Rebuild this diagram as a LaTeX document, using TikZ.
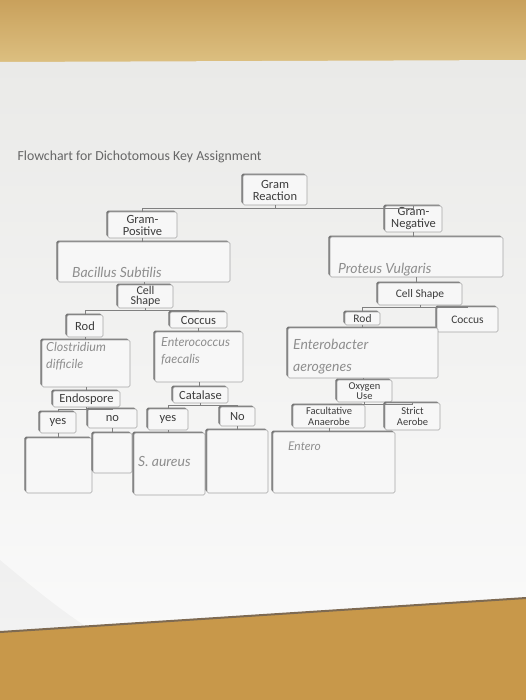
\documentclass[tikz,border=0pt]{standalone}
\usepackage{fontspec}
\setmainfont{Carlito}
\newfontfamily\handfont{Lato}
\usepackage{tikz}
\usetikzlibrary{shadows}

\definecolor{woodtop}{HTML}{C9A15C}
\definecolor{woodlight}{HTML}{DCBF80}
\definecolor{woodlow}{HTML}{C8984A}
\definecolor{woodedge}{HTML}{7E6A52}
\definecolor{paper}{HTML}{EAEAE8}
\definecolor{ink}{HTML}{3C3C3C}
\definecolor{pencil}{HTML}{8E8E8E}

\tikzset{
  box/.style={draw=gray!70, line width=0.6pt, fill=white!94!gray, rounded corners=1.5pt,
    inner sep=0pt, align=center, text=ink, font=\fontsize{12.5}{12}\selectfont,
    general shadow={fill=black!55, shadow xshift=-1.6pt, shadow yshift=1.4pt}},
  small/.style={font=\fontsize{10.5}{10.5}\selectfont},
  hand/.style={text=pencil, font=\handfont\itshape\fontsize{14}{16}\selectfont, align=left, inner sep=0pt},
  link/.style={draw=black!50, line width=0.7pt},
}

\begin{document}
\begin{tikzpicture}[x=1pt,y=-1pt]
\useasboundingbox (0,0) rectangle (526,700);
% table and sheet of paper
\shade[top color=woodtop, bottom color=woodlight] (0,0) rectangle (526,62);
\shade[top color=paper, bottom color=white!96!gray] (0,62) -- (526,60) -- (526,598) -- (0,632) -- cycle;
\fill[black, opacity=0.03] (0,560) .. controls (30,585) and (60,610) .. (90,629) -- (0,632) -- cycle;
\fill[woodlow] (0,632) -- (526,598) -- (526,700) -- (0,700) -- cycle;
\draw[woodedge, line width=2pt] (0,632) -- (526,598);

\node[anchor=west, text=black!60, font=\fontsize{13.8}{14}\selectfont] (title) at (14,157) {Flowchart for Dichotomous Key Assignment};

% gram reaction
\node[box, minimum width=64, minimum height=30] (GR) at (275,190) {Gram\\Reaction};
\node[box, minimum width=69, minimum height=26] (GP) at (142.5,225) {Gram-\\Positive};
\node[box, minimum width=57, minimum height=26] (GN) at (413.5,219) {Gram-\\Negative};
\node[box, minimum width=172, minimum height=40] (BS) at (144,262) {};
\node[box, minimum width=173, minimum height=40] (PV) at (416.5,257) {};
\node[hand, anchor=west] (BSt) at (72,272) {Bacillus Subtilis};
\node[hand, anchor=west] (PVt) at (338,270) {Proteus Vulgaris};

% gram positive side
\node[box, minimum width=55, minimum height=23, font=\fontsize{12}{10.5}\selectfont] (CS1) at (145.5,296.5) {Cell\\Shape};
\node[box, minimum width=36, minimum height=22] (Rod1) at (85,326) {Rod};
\node[box, minimum width=57, minimum height=16] (Coc1) at (198.5,320) {Coccus};
\node[box, minimum width=88, minimum height=47] (CD) at (86,363.5) {};
\node[box, minimum width=88, minimum height=50] (EF) at (199,357) {};
\node[hand, font=\handfont\itshape\fontsize{12.5}{17}\selectfont, anchor=north west] (CDt) at (46,342) {Clostridium\\difficile};
\node[hand, font=\handfont\itshape\fontsize{12.5}{17}\selectfont, anchor=north west] (EFt) at (161,337) {Enterococcus\\faecalis};
\node[box, minimum width=67, minimum height=16] (Endo) at (86.5,399) {Endospore};
\node[box, minimum width=55, minimum height=16] (Cat) at (200.5,395) {Catalase};
\node[box, minimum width=36, minimum height=21] (Y1) at (58,422.5) {yes};
\node[box, minimum width=49, minimum height=19] (N1) at (112.5,418.5) {no};
\node[box, minimum width=40, minimum height=21] (Y2) at (168,419.5) {yes};
\node[box, minimum width=35, minimum height=19] (N2) at (237.5,416.5) {No};
\node[box, minimum width=66, minimum height=55] (B1) at (59,465.5) {};
\node[box, minimum width=39, minimum height=40] (B2) at (112.5,453) {};
\node[box, minimum width=71, minimum height=62] (B3) at (169.5,464) {};
\node[box, minimum width=61, minimum height=63] (B4) at (237.5,461.5) {};
\node[hand, anchor=west] (B3t) at (138,461) {S. aureus};

% gram negative side
\node[box, minimum width=84, minimum height=22, font=\fontsize{11.5}{12}\selectfont] (CS2) at (420,294) {Cell Shape};
\node[box, minimum width=35, minimum height=13, font=\fontsize{11.5}{12}\selectfont] (Rod2) at (362.5,318.5) {Rod};
\node[box, minimum width=61, minimum height=25, font=\fontsize{11.5}{12}\selectfont] (Coc2) at (467.5,319.5) {Coccus};
\node[box, minimum width=150, minimum height=50] (EA) at (363,353) {};
\node[hand, anchor=north west, font=\handfont\itshape\fontsize{14}{22}\selectfont] (EAt) at (293,339) {Enterobacter\\aerogenes};
\node[box, small, minimum width=55, minimum height=22] (OU) at (364.5,391) {Oxygen\\Use};
\node[box, small, minimum width=72, minimum height=23] (FA) at (329,416.5) {Facultative\\Anaerobe};
\node[box, small, minimum width=55, minimum height=27] (SA) at (412.5,416.5) {Strict\\Aerobe};
\node[box, minimum width=122, minimum height=61] (EN) at (334,462.5) {};
\node[hand, anchor=west, font=\handfont\itshape\fontsize{12}{14}\selectfont] (ENt) at (288,446) {Entero};

% connectors
\draw[link] (GR.south) -- ++(0,3) coordinate (k1);
\draw[link] (GP.north) |- (k1) -| (GN.north);
\draw[link] (GP.south) -- (GP.south |- BS.north);
\draw[link] (GN.south) -- (GN.south |- PV.north);
\draw[link] (BS.south) -- (BS.south |- CS1.north);
\draw[link] (PV.south) -- (PV.south |- CS2.north);
\draw[link] (CS1.south) -- ++(0,2) coordinate (k2);
\draw[link] (Rod1.north) |- (k2) -| (Coc1.north);
\draw[link] (Rod1.south) -- (Rod1.south |- CD.north);
\draw[link] (Coc1.south) -- (Coc1.south |- EF.north);
\draw[link] (CD.south) -- (CD.south |- Endo.north);
\draw[link] (EF.south) -- (EF.south |- Cat.north);
\draw[link] (Endo.south) -- ++(0,2) coordinate (k3);
\draw[link] (Y1.north) |- (k3) -| (N1.north);
\draw[link] (Cat.south) -- ++(0,2) coordinate (k4);
\draw[link] (Y2.north) |- (k4) -| (N2.north);
\draw[link] (Y1.south) -- (Y1.south |- B1.north);
\draw[link] (N1.south) -- (N1.south |- B2.north);
\draw[link] (Y2.south) -- (Y2.south |- B3.north);
\draw[link] (N2.south) -- (N2.south |- B4.north);
\draw[link] (CS2.south) -- ++(0,2) coordinate (k5);
\draw[link] (Rod2.north) |- (k5) -| (Coc2.north);
\draw[link] (Rod2.south) -- (Rod2.south |- EA.north);
\draw[link] (EA.south) -- (EA.south |- OU.north);
\draw[link] (OU.south) -- ++(0,2) coordinate (k6);
\draw[link] (FA.north) |- (k6) -| (SA.north);
\draw[link] (FA.south) -- (FA.south |- EN.north);
\end{tikzpicture}
\end{document}
